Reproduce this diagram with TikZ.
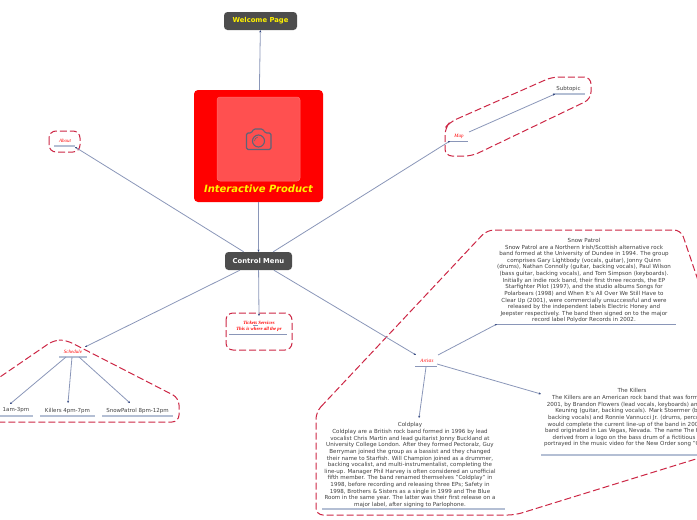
\documentclass[tikz,border=0pt]{standalone}
\usepackage{fontspec}
\setmainfont{DejaVu Sans}
\newfontfamily\labelfont{Liberation Serif}
\usetikzlibrary{arrows.meta}
\definecolor{boxgrey}{HTML}{4D4D4D}
\definecolor{linkblue}{HTML}{8A96B8}
\definecolor{underblue}{HTML}{B4BFD4}
\definecolor{tipblue}{HTML}{2A3F7A}
\definecolor{blobred}{HTML}{CC2745}
\definecolor{iconblue}{HTML}{5C6478}
\tikzset{
    menubox/.style={fill=boxgrey, rounded corners=3.5pt, inner sep=0pt, font=\bfseries\fontsize{6.8}{8}\selectfont},
    link/.style={draw=linkblue, line width=0.8pt},
    under/.style={draw=underblue, line width=1.2pt},
    underthin/.style={draw=linkblue, line width=0.8pt},
    blob/.style={draw=blobred, line width=1pt, dash pattern=on 7pt off 3pt, rounded corners=7pt},
    redlabel/.style={text=red, inner sep=0pt, align=center, font=\labelfont\itshape\fontsize{5}{6}\selectfont},
    plain/.style={text=black!75, inner sep=0pt, font=\fontsize{5.5}{6.5}\selectfont},
    story/.style={text=black!75, inner sep=0pt, anchor=north, align=center, font=\fontsize{5.55}{6.62}\selectfont},
}
\begin{document}
\begin{tikzpicture}[x=1pt, y=-1pt, >={Stealth[length=2.2pt, width=2pt, color=tipblue]}]
\clip (0,0) rectangle (697,520);
% outlines
\draw[blob] (49,131) rectangle (80,152);
\draw[blob] (450,122) -- (552,77) -- (591,77) -- (591,99) -- (472,156) -- (445,156) -- (445,128) -- cycle;
\draw[blob] (-30,397.5) -- (54,340) -- (66,340) -- (179,398) -- (179,422) -- (-30,422) -- cycle;
\draw[blob] (226,313) rectangle (292,350);
\draw[blob] (316,412) -- (487,230) -- (681,230) -- (725,360) -- (725,450) -- (515,515) -- (316,515) -- cycle;
% nodes
\node[menubox, text=yellow, minimum width=73pt, minimum height=18pt] (welcome) at (260.5,21) {Welcome Page};
\node[fill=red, rounded corners=4pt, minimum width=129pt, minimum height=112pt, inner sep=0pt] (product) at (258.5,146) {};
\node[menubox, text=white, minimum width=67pt, minimum height=18pt] (control) at (258.5,261) {Control Menu};
\node[redlabel] (about) at (65,141) {About};
\node[redlabel] (map) at (459,136.5) {Map};
\node[plain] (subtopic) at (568.5,88.5) {Subtopic};
\node[redlabel] (schedule) at (73,351.5) {Schedule};
\node[plain] (slot1) at (16,410.5) {1am-3pm};
\node[plain] (slot2) at (67.5,410.5) {Killers 4pm-7pm};
\node[plain] (slot3) at (137.5,410.5) {SnowPatrol 8pm-12pm};
\node[redlabel, font=\labelfont\bfseries\itshape\fontsize{4.8}{6}\selectfont] (tickets) at (259,326) {Tickets Services\\This is where all the pr};
\node[redlabel] (artists) at (427,361) {Artists};
\node[story] (snow) at (584,238) {Snow Patrol\\
    Snow Patrol are a Northern Irish/Scottish alternative rock\\
    band formed at the University of Dundee in 1994. The group\\
    comprises Gary Lightbody (vocals, guitar), Jonny Quinn\\
    (drums), Nathan Connolly (guitar, backing vocals), Paul Wilson\\
    (bass guitar, backing vocals), and Tom Simpson (keyboards).\\
    Initially an indie rock band, their first three records, the EP\\
    Starfighter Pilot (1997), and the studio albums Songs for\\
    Polarbears (1998) and When It's All Over We Still Have to\\
    Clear Up (2001), were commercially unsuccessful and were\\
    released by the independent labels Electric Honey and\\
    Jeepster respectively. The band then signed on to the major\\
    record label Polydor Records in 2002.};
\node[story] (coldplay) at (410,422.5) {Coldplay\\
    Coldplay are a British rock band formed in 1996 by lead\\
    vocalist Chris Martin and lead guitarist Jonny Buckland at\\
    University College London. After they formed Pectoralz, Guy\\
    Berryman joined the group as a bassist and they changed\\
    their name to Starfish. Will Champion joined as a drummer,\\
    backing vocalist, and multi-instrumentalist, completing the\\
    line-up. Manager Phil Harvey is often considered an unofficial\\
    fifth member. The band renamed themselves "Coldplay" in\\
    1998, before recording and releasing three EPs; Safety in\\
    1998, Brothers \& Sisters as a single in 1999 and The Blue\\
    Room in the same year. The latter was their first release on a\\
    major label, after signing to Parlophone.};
\node[story] (killers) at (632,388.5) {The Killers\\
    The Killers are an American rock band that was formed in\\
    2001, by Brandon Flowers (lead vocals, keyboards) and Dave\\
    Keuning (guitar, backing vocals). Mark Stoermer (bass,\\
    backing vocals) and Ronnie Vannucci Jr. (drums, percussion)\\
    would complete the current line-up of the band in 2002. The\\
    band originated in Las Vegas, Nevada. The name The Killers is\\
    derived from a logo on the bass drum of a fictitious band\\
    portrayed in the music video for the New Order song "Crystal".};
% ends of the links
\coordinate (about-in) at (75,147);
\coordinate (map-in) at (450,141);
\coordinate (map-out) at (469,132);
\coordinate (subtopic-in) at (555,94);
\coordinate (schedule-in) at (85,347);
\coordinate (schedule-1) at (66,357);
\coordinate (schedule-2) at (72,357);
\coordinate (schedule-3) at (79,357);
\coordinate (slot1-in) at (10,404);
\coordinate (slot2-in) at (68,403);
\coordinate (slot3-in) at (130,403);
\coordinate (tickets-in) at (259,316);
\coordinate (artists-in) at (416,355);
\coordinate (artists-1) at (438,355);
\coordinate (artists-2) at (437,364);
\coordinate (artists-3) at (426,367);
\coordinate (snow-in) at (497,324);
\coordinate (killers-in) at (541,394);
\coordinate (coldplay-in) at (419,418);
% underlines
\draw[under] (54,146) -- (75,146);
\draw[underthin] (450,141) -- (468,141);
\draw[under] (553,94) -- (585,94);
\draw[under] (59,357) -- (87,357);
\draw[under] (0,416) -- (33,416);
\draw[under] (40,416) -- (95,416);
\draw[under] (102,416) -- (173,416);
\draw[underthin] (229,334.5) -- (287,334.5);
\draw[underthin] (253,325) -- (258,325);
\draw[underthin] (415,366) -- (437,366);
\draw[underthin] (497,324) -- (676,324);
\draw[under] (322,509) -- (505,509);
\draw[under] (541,455) -- (697,455);
% arrows
\draw[link, ->] (product) -- (welcome);
\draw[link, ->] (product) -- (control);
\draw[link, ->] (control) -- (about-in);
\draw[link, ->] (control) -- (map-in);
\draw[link, ->] (control) -- (schedule-in);
\draw[link, ->] (control) -- (tickets-in);
\draw[link, ->] (control) -- (artists-in);
\draw[link, ->] (map-out) -- (subtopic-in);
\draw[link, ->] (schedule-1) -- (slot1-in);
\draw[link, ->] (schedule-2) -- (slot2-in);
\draw[link, ->] (schedule-3) -- (slot3-in);
\draw[link, ->] (artists-1) -- (snow-in);
\draw[link, ->] (artists-2) -- (killers-in);
\draw[link, ->] (artists-3) -- (coldplay-in);
% product picture
\draw[fill={rgb,255:red,255;green,80;blue,80}, draw={rgb,255:red,255;green,110;blue,110}, line width=0.5pt, rounded corners=3pt] (217,97) rectangle (300,181);
\draw[iconblue, line width=1.1pt, line join=round, rounded corners=1.5pt] (246.5,133) -- (251.5,133) -- (253.5,129) -- (263,129) -- (265,133) -- (271,133) -- (271,149.5) -- (246.5,149.5) -- cycle;
\draw[iconblue, line width=1.1pt] (258.5,141) circle (6pt);
\draw[iconblue, line width=0.6pt] (254.5,141) arc (180:100:4pt);
\node[text=yellow, inner sep=0pt, font=\bfseries\itshape\fontsize{10}{11}\selectfont] (title) at (258.5,189) {Interactive Product};
\end{tikzpicture}
\end{document}
